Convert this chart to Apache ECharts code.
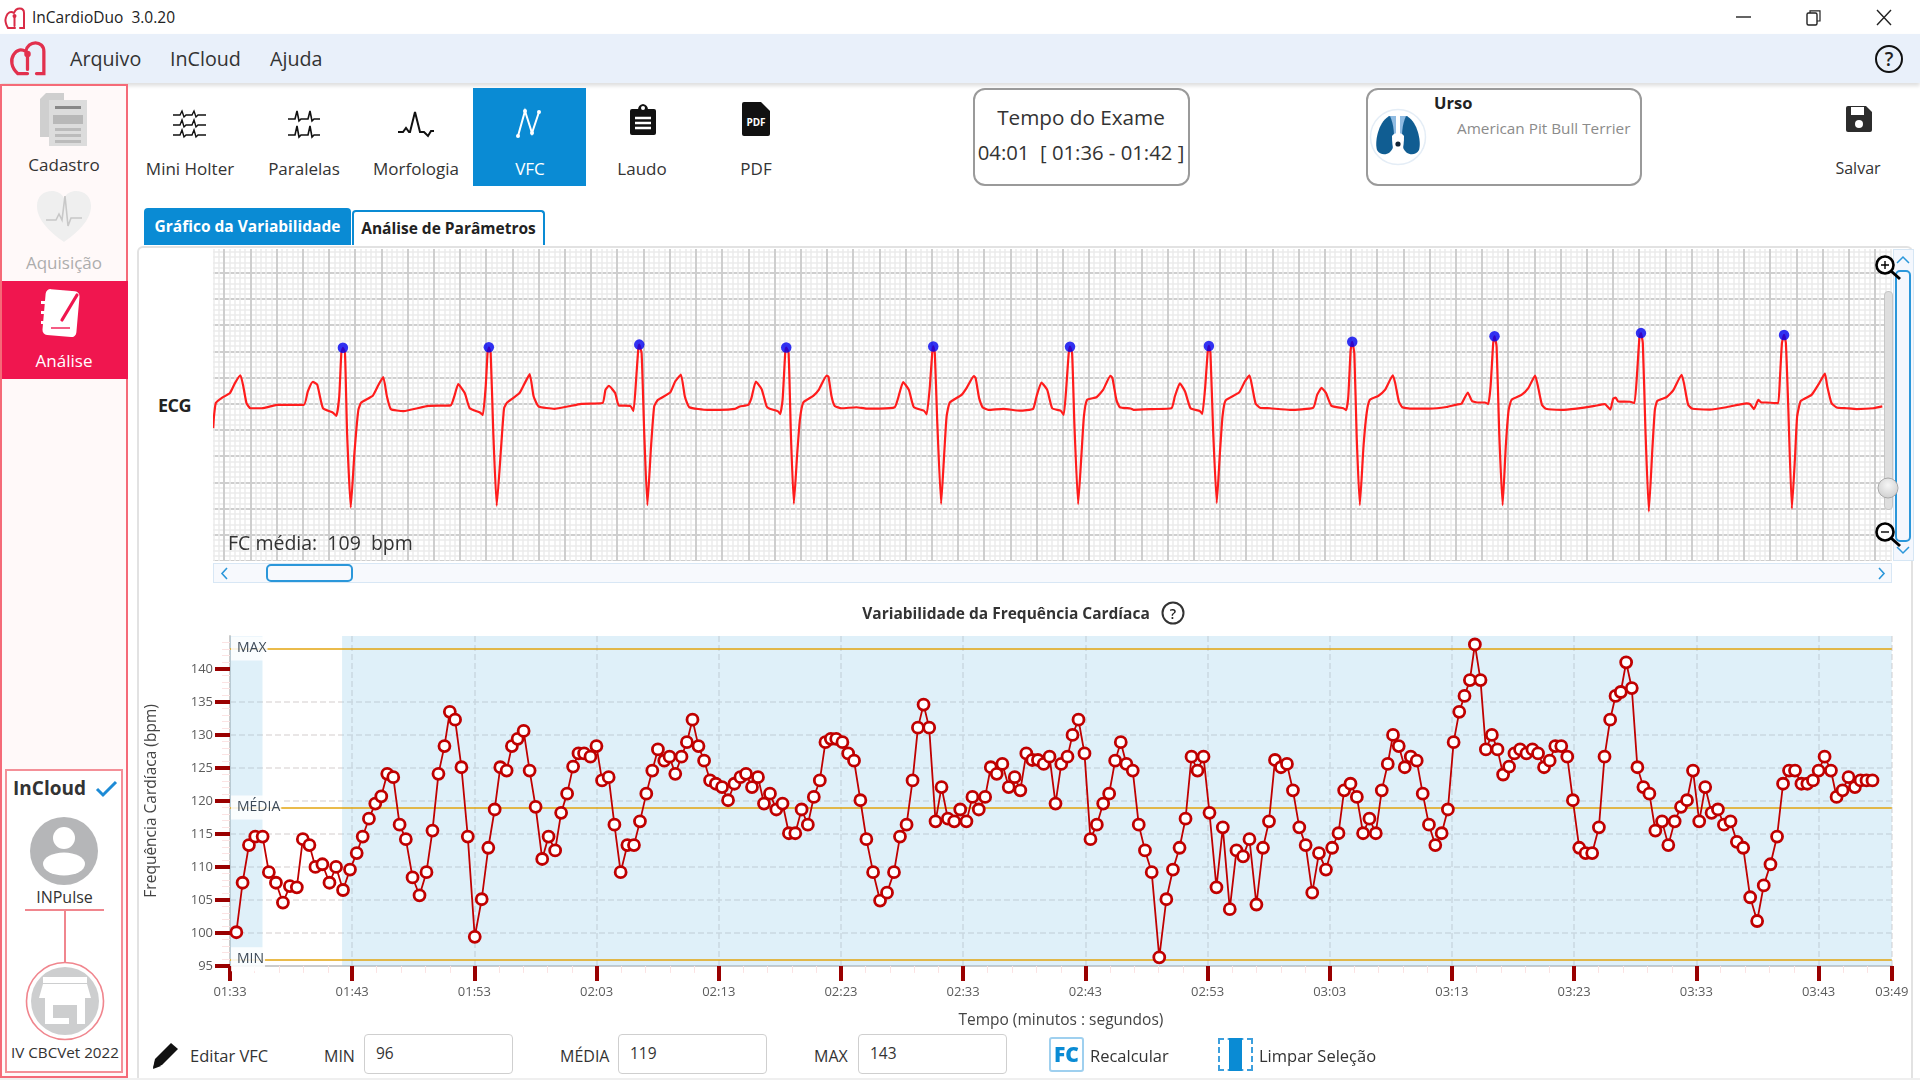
<!DOCTYPE html>
<html lang="pt">
<head>
<meta charset="utf-8">
<title>InCardioDuo</title>
<script src="https://cdn.jsdelivr.net/npm/echarts@6/dist/echarts.min.js"></script>
<style>
html,body{margin:0;padding:0;width:1920px;height:1080px;overflow:hidden;background:#fff;font-family:"Open Sans",sans-serif;color:#222}
.a{position:absolute;white-space:nowrap}
.c{transform:translate(-50%,-50%)}
.m{transform:translateY(-50%)}
svg{position:absolute;overflow:visible}
.box{position:absolute;box-sizing:border-box;border:2px solid #9a9a9a;border-radius:12px;background:#fff}
.inp{position:absolute;box-sizing:border-box;top:1034px;height:40px;width:149px;border:1.5px solid #cfcfcf;border-radius:4px;background:#fff;font-size:15.5px;line-height:37px;padding-left:11px;color:#333}
</style>
</head>
<body>
<!-- window title bar -->
<svg style="left:4px;top:6px" width="22" height="24" viewBox="0 0 44 48"><path d="M22 44H8C3 36 2 28 4 22 7 12 14 10 20 14M20 14C24 2 40 2 40 14V44H32M21 22V40" fill="none" stroke="#d92b46" stroke-width="4" stroke-linecap="round"/><circle cx="21" cy="20" r="4" fill="#d92b46"/></svg>
<div class="a m" style="left:32px;top:17px;font-size:15.5px">InCardioDuo&nbsp; 3.0.20</div>
<svg style="left:1736px;top:10px" width="170" height="16"><path d="M0 7H15" stroke="#222" stroke-width="1.4"/><rect x="71" y="3" width="10" height="12" rx="1.5" fill="#fff" stroke="#222" stroke-width="1.4"/><path d="M74 3V0.8H84V11H81" fill="none" stroke="#222" stroke-width="1.2"/><path d="M141 0L155 15M155 0L141 15" stroke="#222" stroke-width="1.4"/></svg>
<!-- menu -->
<div class="a" style="left:0;top:34px;width:1920px;height:49px;background:#e9f0fa;box-shadow:0 3px 4px rgba(0,0,0,.13)"></div>
<svg style="left:9px;top:40px" width="37" height="36" viewBox="0 0 44 44"><path d="M22 41H10C2 34 1 24 5 18 9 11 15 11 20 14 22 0 42 0 42 14V41H33M22 16V36" fill="none" stroke="#e2304d" stroke-width="4" stroke-linecap="round"/><circle cx="22" cy="17" r="4" fill="#e2304d"/></svg>
<div class="a m" style="left:70px;top:58px;font-size:19.7px;color:#333">Arquivo</div>
<div class="a m" style="left:170px;top:58px;font-size:19.7px;color:#333">InCloud</div>
<div class="a m" style="left:270px;top:58px;font-size:19.7px;color:#333">Ajuda</div>
<div class="a c" style="left:1889px;top:59px;width:24px;height:24px;border:2.5px solid #111;border-radius:50%;text-align:center;font-size:19px;line-height:24px;font-weight:600">?</div>
<!-- sidebar -->
<div class="a" style="left:0;top:84px;width:128px;height:994px;box-sizing:border-box;border:2px solid #f56a78;background:#fff9f9"></div>
<svg style="left:38px;top:91px" width="52" height="56"><path d="M2 8L8 2H26V46H2Z" fill="#cfcfcf"/><rect x="11" y="9" width="38" height="46" fill="#dcdcdc"/><rect x="17" y="15" width="26" height="3" fill="#888"/><rect x="15" y="24" width="30" height="9" fill="#b8b8b8"/><rect x="17" y="37" width="26" height="3" fill="#bbb"/><rect x="17" y="43" width="26" height="3" fill="#bbb"/><rect x="17" y="49" width="26" height="3" fill="#bbb"/></svg>
<div class="a c" style="left:64px;top:164px;font-size:17px;color:#333">Cadastro</div>
<svg style="left:36px;top:190px" width="56" height="54" viewBox="0 0 56 54"><path d="M28 52C14 42 1 30 1 16 1 6 8 1 16 1 21 1 25 3 28 8 31 3 35 1 40 1 48 1 55 6 55 16 55 30 42 42 28 52Z" fill="#efefef"/><path d="M10 30H20L23 24 26 30 29 6 32 36 35 28H46" fill="none" stroke="#c8c8c8" stroke-width="1.6"/></svg>
<div class="a c" style="left:64px;top:262px;font-size:17px;color:#adadad">Aquisição</div>
<div class="a" style="left:2px;top:281px;width:126px;height:98px;background:#f0164f"></div>
<svg style="left:40px;top:287px" width="50" height="54"><rect x="4" y="3" width="34" height="46" rx="5" fill="#fff" transform="rotate(5 20 26)"/><rect x="1" y="14" width="8" height="3" fill="#fff"/><rect x="1" y="24" width="8" height="3" fill="#fff"/><rect x="1" y="34" width="8" height="3" fill="#fff"/><path d="M22 33L37 8" stroke="#f0164f" stroke-width="3.2" stroke-linecap="round"/><path d="M11 41H30" stroke="#f0164f" stroke-width="1.4"/></svg>
<div class="a c" style="left:64px;top:360px;font-size:17px;color:#fff">Análise</div>
<div class="a" style="left:5px;top:769px;width:118px;height:304px;box-sizing:border-box;border:2px solid #f49098;background:#fff"></div>
<div class="a m" style="left:13px;top:788px;font-size:19px;font-weight:700;color:#333">InCloud</div>
<svg style="left:96px;top:780px" width="22" height="18"><path d="M1 9L7 15 20 2" fill="none" stroke="#1d8bd6" stroke-width="3"/></svg>
<svg style="left:30px;top:817px" width="70" height="68"><circle cx="34" cy="34" r="34" fill="#b5b6b8"/><circle cx="34" cy="21" r="11" fill="#fff"/><ellipse cx="34" cy="47" rx="21" ry="11.5" fill="#fff"/></svg>
<div class="a c" style="left:64.5px;top:897px;font-size:16px;color:#333">INPulse</div>
<svg style="left:20px;top:908px" width="90" height="140"><path d="M5 2H84M45 2V54" fill="none" stroke="#f0868e" stroke-width="2"/><circle cx="45" cy="93" r="38.5" fill="#fff" stroke="#f0868e" stroke-width="1.6"/><circle cx="45" cy="93" r="34" fill="#cdcecf"/><path d="M23 69H67V75H23ZM23 76H67L71 90H19ZM25 90H65V116H57V97H33V110H49V116H25Z" fill="#fff"/></svg>
<div class="a c" style="left:65px;top:1052px;font-size:15.2px;color:#333">IV CBCVet 2022</div>
<!-- toolbar -->
<div class="a" style="left:473px;top:88px;width:113px;height:98px;background:#0a8bd4"></div>
<svg style="left:172px;top:110px" width="36" height="30"><g fill="none" stroke="#111" stroke-width="1.4"><path d="M1 5H8L10 1 12 7 14 5H20L22 1 24 7 26 5H34"/><path d="M1 15H8L10 10 12 17 14 15H20L22 10 24 17 26 15H34"/><path d="M1 25H8L10 20 12 27 14 25H20L22 20 24 27 26 25H34"/></g></svg>
<svg style="left:287px;top:110px" width="34" height="28"><g fill="none" stroke="#111" stroke-width="1.6"><path d="M1 9H8L10 1 12 11 14 9H21L23 1 25 11 27 9H33"/><path d="M1 25H8L10 16 12 27 14 25H21L23 16 25 27 27 25H33"/></g></svg>
<svg style="left:397px;top:110px" width="38" height="28"><path d="M1 22H6L9 18 12 22H13L18 2 23 22H27L31 26 34 21H37" fill="none" stroke="#111" stroke-width="2"/></svg>
<svg style="left:516px;top:108px" width="26" height="30"><path d="M2 28L9 3 16 25 23 4" fill="none" stroke="#fff" stroke-width="2"/><circle cx="2" cy="28" r="2" fill="#fff"/><circle cx="9" cy="3" r="2" fill="#fff"/><circle cx="16" cy="25" r="2" fill="#fff"/><circle cx="23" cy="4" r="2" fill="#fff"/></svg>
<svg style="left:629px;top:103px" width="28" height="33"><path d="M3 6H25Q27 6 27 8V30Q27 32 25 32H3Q1 32 1 30V8Q1 6 3 6Z" fill="#111"/><path d="M9 7Q9 2 14 1 19 2 19 7V9H9Z" fill="#111"/><circle cx="14" cy="5" r="2" fill="#fff"/><path d="M6 15H22M6 20H22M6 25H22" stroke="#fff" stroke-width="2.6"/></svg>
<svg style="left:741px;top:101px" width="30" height="36"><path d="M1 3Q1 1 3 1H20L29 10V33Q29 35 27 35H3Q1 35 1 33Z" fill="#111"/><text x="15" y="25" text-anchor="middle" font-size="10" font-weight="700" fill="#fff" font-family="Open Sans">PDF</text></svg>
<div class="a c" style="left:190px;top:167.500px;font-size:17px;color:#333">Mini Holter</div>
<div class="a c" style="left:304px;top:167.500px;font-size:17px;color:#333">Paralelas</div>
<div class="a c" style="left:416px;top:167.500px;font-size:17px;color:#333">Morfologia</div>
<div class="a c" style="left:530px;top:167.500px;font-size:17px;color:#fff">VFC</div>
<div class="a c" style="left:642px;top:167.500px;font-size:17px;color:#333">Laudo</div>
<div class="a c" style="left:756px;top:167.500px;font-size:17px;color:#333">PDF</div>
<!-- exam box -->
<div class="box" style="left:973px;top:88px;width:217px;height:98px"></div>
<div class="a c" style="left:1081px;top:117px;font-size:20.7px;color:#333">Tempo do Exame</div>
<div class="a c" style="left:1081px;top:152px;font-size:20.300px;color:#333;white-space:pre">04:01  [ 01:36 - 01:42 ]</div>
<!-- patient box -->
<div class="box" style="left:1366px;top:88px;width:276px;height:98px"></div>
<div class="a m" style="left:1434px;top:102px;font-size:16.5px;font-weight:700">Urso</div>
<div class="a m" style="left:1457px;top:128px;font-size:15.3px;color:#8b8b8b">American Pit Bull Terrier</div>
<svg style="left:1369px;top:108px" width="58" height="58"><circle cx="29" cy="29" r="27.5" fill="#fff" stroke="#e4edf6" stroke-width="1.5"/><path d="M19 8H39L38 32H20Z" fill="#8fbbe2"/><path d="M21 8C11 11 5 32 8 42 12 49 22 47 24 39 26 28 25 17 21 8Z" fill="#105d92"/><path d="M37 8C47 11 53 32 50 42 46 49 36 47 34 39 32 28 33 17 37 8Z" fill="#105d92"/><rect x="27" y="8" width="4" height="20" fill="#fff"/><path d="M23 28C25 24 33 24 35 28 35 40 33 47 29 47 25 47 23 40 23 28Z" fill="#fff"/><circle cx="29" cy="36" r="2.6" fill="#123"/></svg>
<!-- save -->
<svg style="left:1845px;top:105px" width="28" height="28"><path d="M3 1H21L27 7V25Q27 27 25 27H3Q1 27 1 25V3Q1 1 3 1Z" fill="#2c2c2c"/><rect x="6" y="2" width="13" height="8" fill="#fff"/><circle cx="14" cy="19" r="4" fill="#fff"/></svg>
<div class="a c" style="left:1858px;top:167.500px;font-size:16px;color:#333">Salvar</div>
<!-- tabs and panel -->
<div class="a" style="left:137px;top:246px;width:1776px;height:832px;box-sizing:border-box;border:2px solid #e2e2e2;border-bottom:0;border-radius:6px 6px 0 0;background:#fff"></div>
<div class="a" style="left:144px;top:208px;width:207px;height:37px;background:#0a8bd4;border-radius:4px 4px 0 0;color:#fff;font-weight:700;font-size:15.5px;line-height:37px;text-align:center">Gráfico da Variabilidade</div>
<div class="a" style="left:352px;top:210px;width:193px;height:35px;box-sizing:border-box;border:2px solid #0a8bd4;border-bottom:0;border-radius:4px 4px 0 0;color:#222;font-weight:700;font-size:15.5px;line-height:33px;text-align:center">Análise de Parâmetros</div>
<!-- ECG -->
<div class="a m" style="left:158px;top:405px;font-size:18px;font-weight:700;letter-spacing:-.5px">ECG</div>
<div class="a" style="left:213px;top:249px;width:1679px;height:312px;overflow:hidden"><div id="ecg" style="position:absolute;left:-15px;top:0;width:1694px;height:312px"></div></div>
<div class="a m" style="left:228px;top:542px;font-size:19.5px;color:#333">FC média:&nbsp; 109&nbsp; bpm</div>
<div class="a" style="left:1893px;top:249px;width:21px;height:312px;box-sizing:border-box;background:#f4f7fd;border:1px solid #d6e6f4"></div>
<div class="a" style="left:1895px;top:270px;width:16px;height:272px;box-sizing:border-box;border:2px solid #2b97da;border-radius:5px"></div>
<svg style="left:1896px;top:256px" width="14" height="300"><path d="M1 7L7 1 13 7" fill="none" stroke="#2b97da" stroke-width="1.5"/><path d="M1 291L7 297 13 291" fill="none" stroke="#2b97da" stroke-width="1.5"/></svg>
<div class="a" style="left:1884px;top:291px;width:7px;height:217px;background:#dedede;border:1px solid #c6c6c6;border-radius:4px"></div>
<div class="a c" style="left:1888px;top:488px;width:19px;height:19px;border:1px solid #a8a8a8;border-radius:50%;background:radial-gradient(circle at 50% 35%,#f6f6f6,#c8c8c8)"></div>
<svg style="left:1874px;top:254px" width="30" height="30"><circle cx="11" cy="11" r="8.5" fill="#fff" stroke="#000" stroke-width="2.6"/><path d="M7 11H15M11 7V15" stroke="#000" stroke-width="1.4"/><path d="M17 17L26 25" stroke="#000" stroke-width="3"/></svg>
<svg style="left:1874px;top:521px" width="30" height="30"><circle cx="11" cy="11" r="8.5" fill="#fff" stroke="#000" stroke-width="2.6"/><path d="M7 11H15" stroke="#000" stroke-width="1.4"/><path d="M17 17L26 25" stroke="#000" stroke-width="3"/></svg>
<div class="a" style="left:213px;top:563px;width:1679px;height:20px;box-sizing:border-box;background:#f7f9fd;border:1px solid #d8e7f5"></div>
<svg style="left:220px;top:567px" width="1670" height="13"><path d="M7 1L2 6.500 7 12" fill="none" stroke="#2b97da" stroke-width="1.6"/><path d="M1659 1L1664 6.500 1659 12" fill="none" stroke="#2b97da" stroke-width="1.6"/></svg>
<div class="a" style="left:266px;top:564px;width:87px;height:18px;box-sizing:border-box;border:2px solid #2b97da;border-radius:5px"></div>
<!-- HRV chart -->
<div id="vfc" class="a" style="left:136px;top:595px;width:1784px;height:445px"></div>
<div class="a c" style="left:1173px;top:613px;width:19px;height:19px;border:2px solid #333;border-radius:50%;text-align:center;font-size:14px;line-height:19px;font-weight:600">?</div>
<!-- footer -->
<svg style="left:151px;top:1041px" width="30" height="30"><path d="M2 27L4 18 20 2 27 8 11 24Z" fill="#111"/><path d="M2 28L4 20 10 25Z" fill="#111"/></svg>
<div class="a m" style="left:190px;top:1055px;font-size:16.5px;color:#333">Editar VFC</div>
<div class="a m" style="left:324px;top:1056px;font-size:16px;color:#333">MIN</div>
<div class="inp" style="left:364px">96</div>
<div class="a m" style="left:560px;top:1056px;font-size:16px;color:#333">MÉDIA</div>
<div class="inp" style="left:618px">119</div>
<div class="a m" style="left:814px;top:1056px;font-size:16px;color:#333">MAX</div>
<div class="inp" style="left:858px">143</div>
<div class="a" style="left:1049px;top:1037px;width:35px;height:35px;box-sizing:border-box;border:2px solid #9fd0ef;border-radius:3px;color:#0a8bd4;font-weight:800;font-size:21px;line-height:31px;text-align:center">FC</div>
<div class="a m" style="left:1090px;top:1055px;font-size:16.5px;color:#333">Recalcular</div>
<div class="a" style="left:1218px;top:1038px;width:35px;height:33px;box-sizing:border-box;border:2px dashed #3d9fdd;"><div style="position:absolute;left:9px;top:-2px;width:13px;height:33px;background:#0a8bd4"></div></div>
<div class="a m" style="left:1259px;top:1055px;font-size:16.5px;color:#333">Limpar Seleção</div>
<div class="a" style="left:0;top:1078px;width:1920px;height:2px;background:#efefef"></div>

<script>
// ===== Heart-rate variability chart =====
const startSeconds = 93;           // 01:33
const bpmSeconds = [0.52,1.03,1.55,2.07,2.67,3.18,3.76,4.33,4.90,5.47,5.96,6.50,6.99,7.56,8.14,8.68,9.25,9.82,10.37,10.86,11.37,11.89,12.38,12.87,13.36,13.88,14.39,14.94,15.51,16.08,16.57,17.06,17.55,17.99,18.42,18.94,19.46,20.03,20.60,21.14,21.66,22.12,22.64,23.07,23.54,24.03,24.52,25.01,25.55,26.07,26.61,27.10,27.59,28.08,28.52,
28.98,29.50,29.99,30.45,30.99,31.46,31.97,32.52,33.06,33.55,34.07,34.56,35.02,35.54,35.97,36.44,36.95,37.39,37.85,38.34,38.80,39.29,39.76,40.27,40.76,41.28,41.77,42.23,42.72,43.21,43.70,44.19,44.71,45.22,45.74,46.26,46.78,47.29,47.78,48.27,48.73,49.17,49.61,50.12,50.59,51.07,51.59,52.08,52.63,53.20,53.77,54.34,54.83,55.37,55.86,56.30,56.76,57.22,57.74,58.23,58.75,59.27,59.76,60.27,60.76,61.28,61.80,62.26,62.75,63.21,63.73,64.22,
64.68,65.17,65.66,66.12,66.59,67.07,67.56,68.03,68.54,68.95,69.44,69.93,70.42,70.94,71.46,71.95,72.44,72.90,73.36,73.88,74.37,74.88,75.43,76.05,76.63,77.17,77.71,78.20,78.69,79.18,79.67,80.16,80.73,81.25,81.82,82.37,82.91,83.43,84.00,84.54,85.03,85.52,86.01,86.50,86.99,87.51,88.03,88.57,89.12,89.69,90.20,90.72,91.18,91.70,92.22,92.73,93.25,93.77,94.26,94.75,95.18,95.65,96.14,96.63,97.12,97.61,98.12,98.64,99.16,99.67,100.14,100.60,
101.03,101.47,101.88,102.34,102.78,103.27,103.73,104.19,104.68,105.12,105.58,106.10,106.59,107.05,107.54,108.00,108.46,108.95,109.44,109.90,110.42,110.94,111.48,112.03,112.49,112.95,113.39,113.82,114.26,114.72,115.18,115.67,116.16,116.65,117.20,117.71,118.23,118.75,119.24,119.73,120.24,120.73,121.25,121.77,122.26,122.80,123.32,123.84,124.41,124.98,125.52,126.07,126.61,127.10,127.59,128.08,128.60,129.09,129.55,130.01,130.50,131.02,131.48,131.97,132.46,132.98,133.44,133.93,134.42];
const bpmValues = [100.1,107.6,113.3,114.6,114.6,109.2,107.6,104.6,107.1,106.9,114.2,113.3,110,110.4,107.6,110,106.5,109.6,112.1,114.6,117.3,119.6,120.7,124.1,123.6,116.4,114.2,108.4,105.7,109.2,115.5,124.1,128.3,133.5,132.3,125.1,114.6,99.4,105.1,112.9,118.7,125.1,124.6,128.3,129.4,130.6,124.6,119.1,111.2,114.6,112.5,118.2,121.1,125.2,127.2,
127.2,126.7,128.3,123.1,123.6,116.4,109.2,113.3,113.3,116.9,121.1,124.6,127.8,126.1,126.7,124.1,126.7,128.9,132.3,128.3,126.1,123.1,122.6,122.1,120.1,122.6,123.6,124.1,122.1,123.6,119.6,121.1,118.7,119.6,115.1,115.1,118.7,116.4,120.6,123.1,128.9,129.4,129.4,128.9,127.2,126.1,120.1,114.2,109.2,104.9,106.1,109.2,114.6,116.4,123.1,131.1,134.6,131.1,116.9,122.1,117.3,116.9,118.7,116.9,120.6,118.7,120.6,125.1,124.1,125.6,122.1,123.6,
121.6,127.2,126.2,126.2,125.6,126.7,119.6,125.6,126.7,130,132.3,127.2,114.2,116.4,119.6,121.1,126.1,128.9,125.6,124.6,116.4,112.5,109.2,96.3,105.1,109.6,112.9,117.3,126.7,124.6,126.7,118.2,106.9,116,103.6,112.5,111.6,114.2,104.3,112.9,116.9,126.2,125.1,125.6,121.6,116,113.3,106.1,112.1,109.6,112.9,115.1,121.6,122.6,120.6,115.1,117.3,115.1,121.6,125.6,130,128.3,125.1,126.7,126.1,121.1,116.4,113.3,115.1,118.7,128.9,133.5,
135.9,138.3,143.7,138.3,127.8,130,127.8,124,125.2,127.2,127.8,127.2,127.8,127.2,125.1,126.1,128.3,128.3,126.7,120.1,112.9,112.1,112.1,116,126.7,132.3,135.9,136.5,141,137.1,125.1,122.1,121.1,115.5,116.9,113.3,116.9,119.1,120.1,124.6,116.9,122.1,118.2,118.7,116.4,116.9,113.8,112.9,105.4,101.8,107.2,110.4,114.6,122.6,124.6,124.6,122.6,122.6,123.1,124.6,126.7,124.6,120.6,121.6,123.6,122.1,123.1,123.1,123.1];
const yTicks = [95,100,105,110,115,120,125,130,135,140];
const refNames = ['MAX','MÉDIA','MIN'];
const refValues = [143.1,119,96];
const selectedRanges = [[0,2.66],[9.17,136]];

// ===== ECG strip (ms, amplitude units; 100 units = one large square) =====
const ecgMs = [58,61,68,90,122,141,162,173,185,200,244,302,404,419,438,455,477,514,528,539,547,553,561,569,583,597,612,623,667,689,707,721,736,784,879,964,978,993,1018,1037,1076,1087,1098,1105,1110,1117,1127,1140,1157,1168,1180,1227,1247,1266,1281,1300,1361,1463,1544,1555,1568,1592,1606,1650,1662,1672,1680,1684,1693,1703,1715,1729,1741,1755,1802,1821,1843,1858,1875,1945,
1992,2049,2068,2100,2112,2129,2151,2170,2180,2214,2222,2231,2241,2245,2254,2263,2274,2287,2297,2310,2348,2369,2399,2406,2418,2430,2456,2513,2551,2602,2659,2672,2691,2713,2732,2770,2781,2793,2802,2806,2812,2821,2836,2848,2857,2869,2914,2933,2961,2968,2981,2994,3016,3073,3136,3187,3200,3219,3241,3260,3292,3304,3314,3323,3328,3336,3345,3359,3372,3381,3393,3429,3454,3482,3490,3505,3518,3559,3571,3645,3715,3728,3747,3767,3788,3823,3833,3844,3853,3858,3864,3874,3888,3900,3910,3922,3973,
3995,4013,4023,4036,4053,4091,4167,4256,4271,4288,4305,4326,4371,4382,4390,4399,4405,4413,4422,4434,4448,4460,4472,4504,4530,4560,4569,4583,4596,4625,4701,4765,4803,4822,4846,4862,4886,4911,4924,4933,4943,4948,4956,4966,4979,4991,5002,5013,5051,5077,5103,5114,5129,5144,5204,5261,5325,5369,5390,5401,5410,5420,5465,5482,5493,5501,5507,5514,5524,5537,5551,5560,5569,5604,5630,5662,5671,5687,5704,5770,5833,5910,5923,5938,5955,5967,5986,6018,6031,6037,6045,6053,6060,6069,6083,6095,6103,6117,6158,6184,6209,6218,6234,6254,6292,6330,6393,6428];
const ecgAmp = [507,552,603,622,641,679,709,666,603,583,583,596,596,647,684,673,583,567,554,628,793,814,793,488,204,412,577,605,631,673,702,628,580,572,592,594,628,675,641,583,567,557,666,793,816,793,488,211,437,583,605,641,679,713,628,590,581,600,603,653,669,641,594,592,573,692,806,826,793,488,213,437,590,615,643,685,712,628,587,577,
577,581,590,596,622,685,656,590,582,571,561,615,793,815,793,475,218,412,539,605,630,653,708,704,628,592,583,587,582,582,587,622,683,653,587,574,560,666,793,819,793,539,218,412,552,605,634,660,706,698,622,587,577,581,574,581,628,681,653,583,574,558,666,793,818,793,513,217,412,552,615,625,653,707,698,615,587,582,577,580,583,628,678,647,583,573,562,666,793,821,793,501,221,412,552,613,643,
685,709,666,602,585,583,577,585,634,661,641,592,583,576,628,806,837,793,475,213,437,564,615,630,653,709,679,609,587,582,582,588,597,600,643,611,605,605,599,666,832,858,819,488,213,437,577,615,634,660,708,666,596,581,577,582,591,599,578,620,624,609,608,603,730,851,870,832,501,189,437,577,611,625,651,711,679,596,581,578,587,602,599,580,615,605,605,603,603,692,832,863,832,590,200,399,552,611,634,673,715,666,603,586,583,580,583,590];
const rPeakMs = [553,1110,1684,2245,2806,3328,3858,4405,4948,5507,6053];
const rPeakAmp = [814,816,826,815,819,818,821,837,858,870,863];

const FONT = '"Open Sans", sans-serif';
const ecgChart = echarts.init(document.getElementById('ecg'), null, {renderer:'canvas'});
ecgChart.setOption({
  animation:false,
  grid:{left:0,right:0,top:0,bottom:0},
  xAxis:{type:'value',min:0,max:6465,interval:100,
    axisLine:{show:false},axisTick:{show:false},axisLabel:{show:false},
    minorTick:{show:false,splitNumber:5},
    splitLine:{show:true,showMinLine:false,showMaxLine:false,lineStyle:{color:'#cecece',width:2}},
    minorSplitLine:{show:true,lineStyle:{color:'#ebebeb',width:1.5}}},
  yAxis:{type:'value',min:0,max:1191,interval:100,
    axisLine:{show:false},axisTick:{show:false},axisLabel:{show:false},
    minorTick:{show:false,splitNumber:5},
    splitLine:{show:true,showMaxLine:false,lineStyle:{color:'#cecece',width:2}},
    minorSplitLine:{show:true,lineStyle:{color:'#ebebeb',width:1.5}}},
  series:[
    {type:'line',data:ecgMs.map((t,i)=>[t,ecgAmp[i]]),showSymbol:false,smooth:0.15,
     lineStyle:{color:'#ff1c1c',width:2.2,join:'round'},silent:true},
    {type:'scatter',data:rPeakMs.map((t,i)=>[t,rPeakAmp[i]]),symbolSize:10.5,
     itemStyle:{color:'#0000f0'},silent:true,z:5}
  ]
});

function mmss(t){const s=Math.round(t)+startSeconds;
  return String(Math.floor(s/60)).padStart(2,'0')+':'+String(s%60).padStart(2,'0');}

const vfcChart = echarts.init(document.getElementById('vfc'), null, {renderer:'canvas'});
vfcChart.setOption({
  animation:false,
  textStyle:{fontFamily:FONT},
  title:{text:'Variabilidade da Frequência Cardíaca',left:865,top:7,textAlign:'center',
    textStyle:{fontFamily:FONT,fontSize:15.5,fontWeight:700,color:'#333'}},
  grid:{left:92.4,top:40.9,width:1663.4,height:330},
  xAxis:{type:'value',min:0,max:136,interval:10,
    name:'Tempo (minutos : segundos)',nameLocation:'middle',nameGap:47,
    nameTextStyle:{fontSize:15.5,color:'#444',fontFamily:FONT},
    axisLine:{show:true,onZero:false,lineStyle:{color:'#cbcbcb',width:2}},
    axisTick:{show:true,length:15,lineStyle:{color:'#990000',width:4}},
    minorTick:{show:true,splitNumber:5,length:7,lineStyle:{color:'#fbe3e3',width:1}},
    axisLabel:{margin:20,color:'#5c5c5c',fontSize:13,fontFamily:FONT,formatter:mmss},
    splitLine:{show:true,showMinLine:false,lineStyle:{color:'#e2dede',type:'dashed',width:1.5}}},
  yAxis:{type:'value',min:95,max:145,interval:5,
    name:'Frequência Cardíaca (bpm)',nameLocation:'middle',nameGap:70,
    nameTextStyle:{fontSize:15.5,color:'#444',fontFamily:FONT},
    axisLine:{show:true,onZero:false,lineStyle:{color:'#cbcbcb',width:2}},
    axisTick:{show:true,length:15,lineStyle:{color:'#990000',width:4},customValues:yTicks},
    minorTick:{show:true,splitNumber:5,length:8,lineStyle:{color:'#fbe3e3',width:1}},
    axisLabel:{margin:17,color:'#5c5c5c',fontSize:13,fontFamily:FONT,customValues:yTicks},
    splitLine:{show:true,showMinLine:false,showMaxLine:false,lineStyle:{color:'#e2dede',type:'dashed',width:1.5}}},
  series:[{
    type:'line',
    data:bpmSeconds.map((t,i)=>[t,bpmValues[i]]),
    symbol:'circle',symbolSize:11,showAllSymbol:true,
    lineStyle:{color:'#c00000',width:1.8},
    itemStyle:{color:'#ffffff',borderColor:'#c00000',borderWidth:2.8},
    silent:true,z:4,
    markArea:{silent:true,z:1,itemStyle:{color:'rgba(140,200,235,0.28)'},
      data:selectedRanges.map(r=>[{xAxis:r[0]},{xAxis:r[1]}])},
    markLine:{silent:true,z:2,symbol:'none',animation:false,
      lineStyle:{color:'#e3a50f',width:1.6,type:'solid'},
      label:{show:true,position:'start',distance:-1,align:'left',verticalAlign:'middle',
        fontSize:14,color:'#3d4a58',fontFamily:FONT,
        backgroundColor:'rgba(255,255,255,0.86)',padding:[5,1,5,6],
        formatter:p=>p.name},
      data:refValues.map((v,i)=>({name:refNames[i],yAxis:v}))}
  }]
});
</script>
</body>
</html>
